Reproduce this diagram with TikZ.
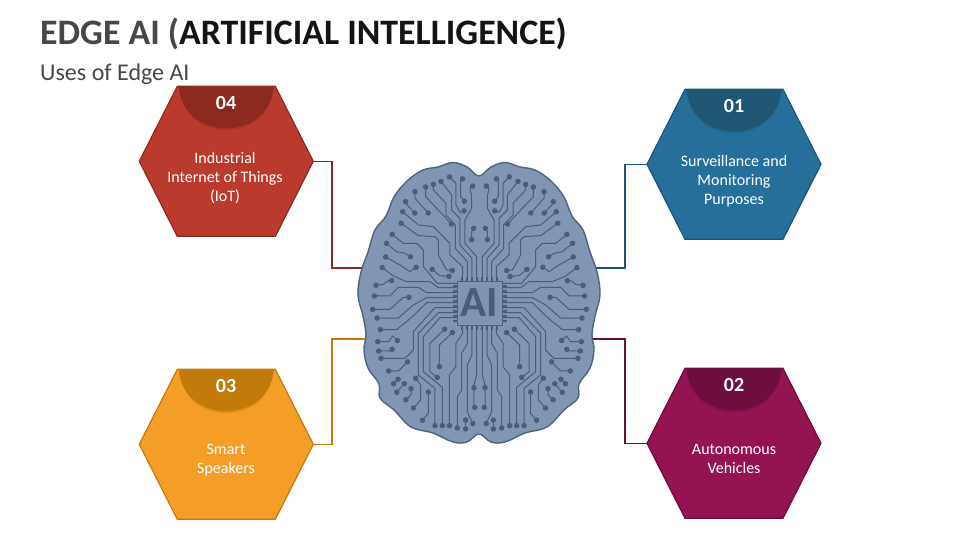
\documentclass[tikz,border=0pt]{standalone}
\usepackage{fontspec}
\setmainfont{Carlito}
\usetikzlibrary{shapes.geometric,arrows.meta}
\definecolor{tracecol}{HTML}{4A5E78}
\definecolor{brainfill}{HTML}{8096B3}
\definecolor{brainedge}{HTML}{4F637D}
\definecolor{chipfill}{HTML}{7F95B2}
\definecolor{HexRed}{HTML}{BB3A2E}
\definecolor{HexRedD}{HTML}{8C2A20}
\definecolor{HexBlue}{HTML}{266F9B}
\definecolor{HexBlueD}{HTML}{1F5673}
\definecolor{HexOrange}{HTML}{F59E27}
\definecolor{HexOrangeD}{HTML}{C27A0A}
\definecolor{HexPlum}{HTML}{941352}
\definecolor{HexPlumD}{HTML}{6D0E3C}
\tikzset{
  hexbox/.style={minimum width=174pt,minimum height=150pt,inner sep=0pt,outer sep=0pt},
  link/.style={draw=#1,line width=1.5pt},
  label/.style={text=white,align=center,font=\fontsize{16}{19}\selectfont},
  num/.style={text=white,font=\bfseries\fontsize{20}{22}\selectfont},
  one/.style={draw=tracecol,line width=1pt,{Circle[length=5.4pt,width=5.4pt]}-,line join=round},
  two/.style={draw=tracecol,line width=1pt,{Circle[length=5.4pt,width=5.4pt]}-{Circle[length=5.4pt,width=5.4pt]},line join=round},
  pin/.style={draw=tracecol,line width=2pt}
}
% name, x, y, edge colour, fill colour
\newcommand\hexcard[5]{%
  \node[hexbox] (#1) at (#2,#3) {};
  \filldraw[draw=#4,fill=#5,line width=1.2pt,line join=miter] (#2-87,#3) -- (#2-49,#3-75) -- (#2+49,#3-75) -- (#2+87,#3) -- (#2+49,#3+75) -- (#2-49,#3+75) -- cycle;
  \fill[#4,opacity=.35] (#2-47.5,#3-75) .. controls (#2-45,#3-44) and (#2-22,#3-31) .. (#2,#3-31) .. controls (#2+22,#3-31) and (#2+45,#3-44) .. (#2+47.5,#3-75) -- cycle;
  \fill[#4] (#2-47.5,#3-75) .. controls (#2-45,#3-46) and (#2-22,#3-33) .. (#2,#3-33) .. controls (#2+22,#3-33) and (#2+45,#3-46) .. (#2+47.5,#3-75) -- cycle;}
\newcommand\halfcircuit{%
  \begin{scope}[shift={(350,155)},x=.3333pt,y=-.3333pt]
    \draw[two] (342,65)--(332,80)--(332,125)--(348,145);
    \draw[two] (293,60)--(318,85)--(318,150)--(330,172)--(350,165);
    \draw[one] (374,88)--(360,100)--(365,125)--(365,160)--(345,195)--(345,265)--(380,305)--(380,378);
    \draw[one] (268,73)--(305,120)--(305,165)--(330,190)--(330,270)--(366,310)--(366,378);
    \draw[one] (250,80)--(250,105)--(288,145)--(288,180)--(316,210)--(316,280)--(352,320)--(352,378);
    \draw[two] (227,88)--(227,125)--(310,213);
    \draw[two] (195,102)--(195,130)--(240,180);
    \draw[two] (167,132)--(167,145)--(200,180);
    \draw[one] (152,165)--(205,210)--(250,215)--(300,265)--(300,300)--(338,335)--(338,378);
    \draw[two] (147,200)--(205,242)--(255,245)--(265,255)--(265,300)--(290,345)--(315,347);
    \draw[one] (120,233)--(160,265)--(200,265)--(220,285)--(220,335)--(262,385)--(322,385);
    \draw[two] (103,260)--(140,290)--(165,295)--(188,310);
    \draw[two] (100,302)--(150,330)--(180,350)--(205,332);
    \draw[two] (240,338)--(270,362)--(305,365);
    \draw[two] (375,213)--(365,230)--(365,262);
  \end{scope}
  \begin{scope}[shift={(355,250)},x=.3333pt,y=-.3333pt]
    \draw[two] (55,107)--(85,103)--(100,92)--(118,92);
    \draw[one] (75,48)--(115,78)--(155,95)--(225,95)--(250,113)--(305,113);
    \draw[one] (50,138)--(105,138)--(130,112)--(190,112)--(215,128)--(305,128);
    \draw[two] (45,178)--(105,178)--(125,160)--(145,142)--(170,142);
  \end{scope}
  \begin{scope}[shift={(350,300)},x=.3333pt,y=-.3333pt]
    \draw[one] (73,54)--(145,54)--(190,15)--(230,-7)--(322,-7);
    \draw[one] (83,89)--(140,89)--(185,52)--(230,8)--(322,8);
    \draw[one] (85,175)--(165,175)--(190,150)--(190,95)--(255,23)--(322,23);
    \draw[one] (255,385)--(255,265)--(205,225)--(205,100)--(265,38)--(322,38);
    \draw[one] (277,385)--(277,262)--(220,215)--(220,110)--(270,53)--(322,53);
    \draw[one] (298,385)--(298,225)--(318,200)--(318,130)--(338,100)--(338,75);
    \draw[one] (322,392)--(322,290)--(335,270)--(335,160)--(352,130)--(352,75);
    \draw[one] (372,378)--(352,335)--(352,195)--(366,165)--(366,75);
    \draw[two] (380,328)--(372,320)--(372,255);
    \draw[line width=1pt,draw=tracecol] (372,255)--(380,225)--(380,75);
    \draw[two] (347,352)--(347,395);
    \draw[two] (313,92)--(268,135)--(268,208);
    \draw[two] (290,82)--(240,130)--(240,215)--(268,237);
    \draw[two] (235,268)--(235,340)--(212,367);
    \draw[two] (192,228)--(212,255)--(212,300)--(185,330);
    \draw[two] (183,258)--(183,285)--(162,305);
    \draw[two] (150,232)--(125,257);
    \draw[two] (168,245)--(135,283);
    \draw[two] (108,213)--(145,213)--(178,180);
    \draw[two] (78,153)--(120,153)--(133,143);
    \draw[two] (75,125)--(115,125)--(128,108)--(148,127);
  \end{scope}
}
\begin{document}
\begin{tikzpicture}[x=1pt,y=-1pt]
\useasboundingbox (0,0) rectangle (960,540);
\fill[white] (0,0) rectangle (960,540);

\node[anchor=base west,inner sep=0pt,font=\bfseries\fontsize{35.8}{38}\selectfont] (title) at (40,45) {\textcolor{black!72}{EDGE AI (}\textcolor{black!92}{ARTIFICIAL INTELLIGENCE)}};
\node[anchor=base west,inner sep=0pt,font=\fontsize{24}{26}\selectfont,text=black!72] (subtitle) at (40,81) {Uses of Edge AI};

\coordinate (b4) at (366,268);
\coordinate (b1) at (590,268);
\coordinate (b3) at (366,339);
\coordinate (b2) at (592,339);
\coordinate (m4) at (332,268);
\coordinate (m1) at (625,268);
\coordinate (m3) at (332,339);
\coordinate (m2) at (625,339);

\hexcard{h4}{226.3}{161.3}{HexRedD}{HexRed}
\hexcard{h1}{734}{164.3}{HexBlueD}{HexBlue}
\hexcard{h3}{226.3}{444.3}{HexOrangeD}{HexOrange}
\hexcard{h2}{734}{443.3}{HexPlumD}{HexPlum}

\draw[link=HexRedD] (h4.east) -| (m4) -- (b4);
\draw[link=HexBlueD] (h1.west) -| (m1) -- (b1);
\draw[link=HexOrangeD] (h3.east) -| (m3) -- (b3);
\draw[link=HexPlumD] (h2.west) -| (m2) -- (b2);

\node[num] (n4) at (226,103) {04};
\node[num] (n1) at (734,106) {01};
\node[num] (n3) at (226,386) {03};
\node[num] (n2) at (734,385) {02};

\node[label] (t4) at (225,178) {Industrial\\Internet of Things\\(IoT)};
\node[label] (t1) at (734,181) {Surveillance and\\Monitoring\\Purposes};
\node[label] (t3) at (226,460) {Smart\\Speakers};
\node[label] (t2) at (734,459) {Autonomous\\Vehicles};

% brain outline
\draw[fill=brainfill,draw=brainedge,line width=1.4pt] plot[smooth cycle,tension=.6] coordinates {
 (479,176) (491,167) (505,162.5) (520,167) (535,170) (551,181) (564,197) (572,216)
 (583,230) (590,252) (597,272) (600,295) (595,316) (592,335) (594,350) (590,368) (579,384)
 (578,398) (564,410) (547,427) (525,433) (505,442) (491,442) (479,434)
 (467,442) (453,442) (433,433) (411,427) (394,410) (380,398)
 (379,384) (368,368) (364,350) (366,335) (363,316) (358,295) (361,272) (368,252) (375,230)
 (386,216) (394,197) (407,181) (423,170) (438,167) (453,162.5) (467,167)
};

% circuit
\halfcircuit
\begin{scope}[xshift=959pt,xscale=-1]
\halfcircuit
\end{scope}

% chip
\foreach \p in {0,...,7}{
  \draw[pin] (461.7+\p*5,276.5) -- (461.7+\p*5,281);
  \draw[pin] (461.7+\p*5,325) -- (461.7+\p*5,329.5);
  \draw[pin] (452.5,285.7+\p*5) -- (457,285.7+\p*5);
  \draw[pin] (502,285.7+\p*5) -- (506.5,285.7+\p*5);
}
\node[minimum width=45pt,minimum height=44pt,inner sep=0pt,draw=brainedge,fill=chipfill,line width=1pt] (chip) at (479.5,303) {};
\node[font=\bfseries\fontsize{43}{44}\selectfont,text=tracecol,inner sep=0pt] (ai) at (479.5,303) {AI};
\end{tikzpicture}
\end{document}
